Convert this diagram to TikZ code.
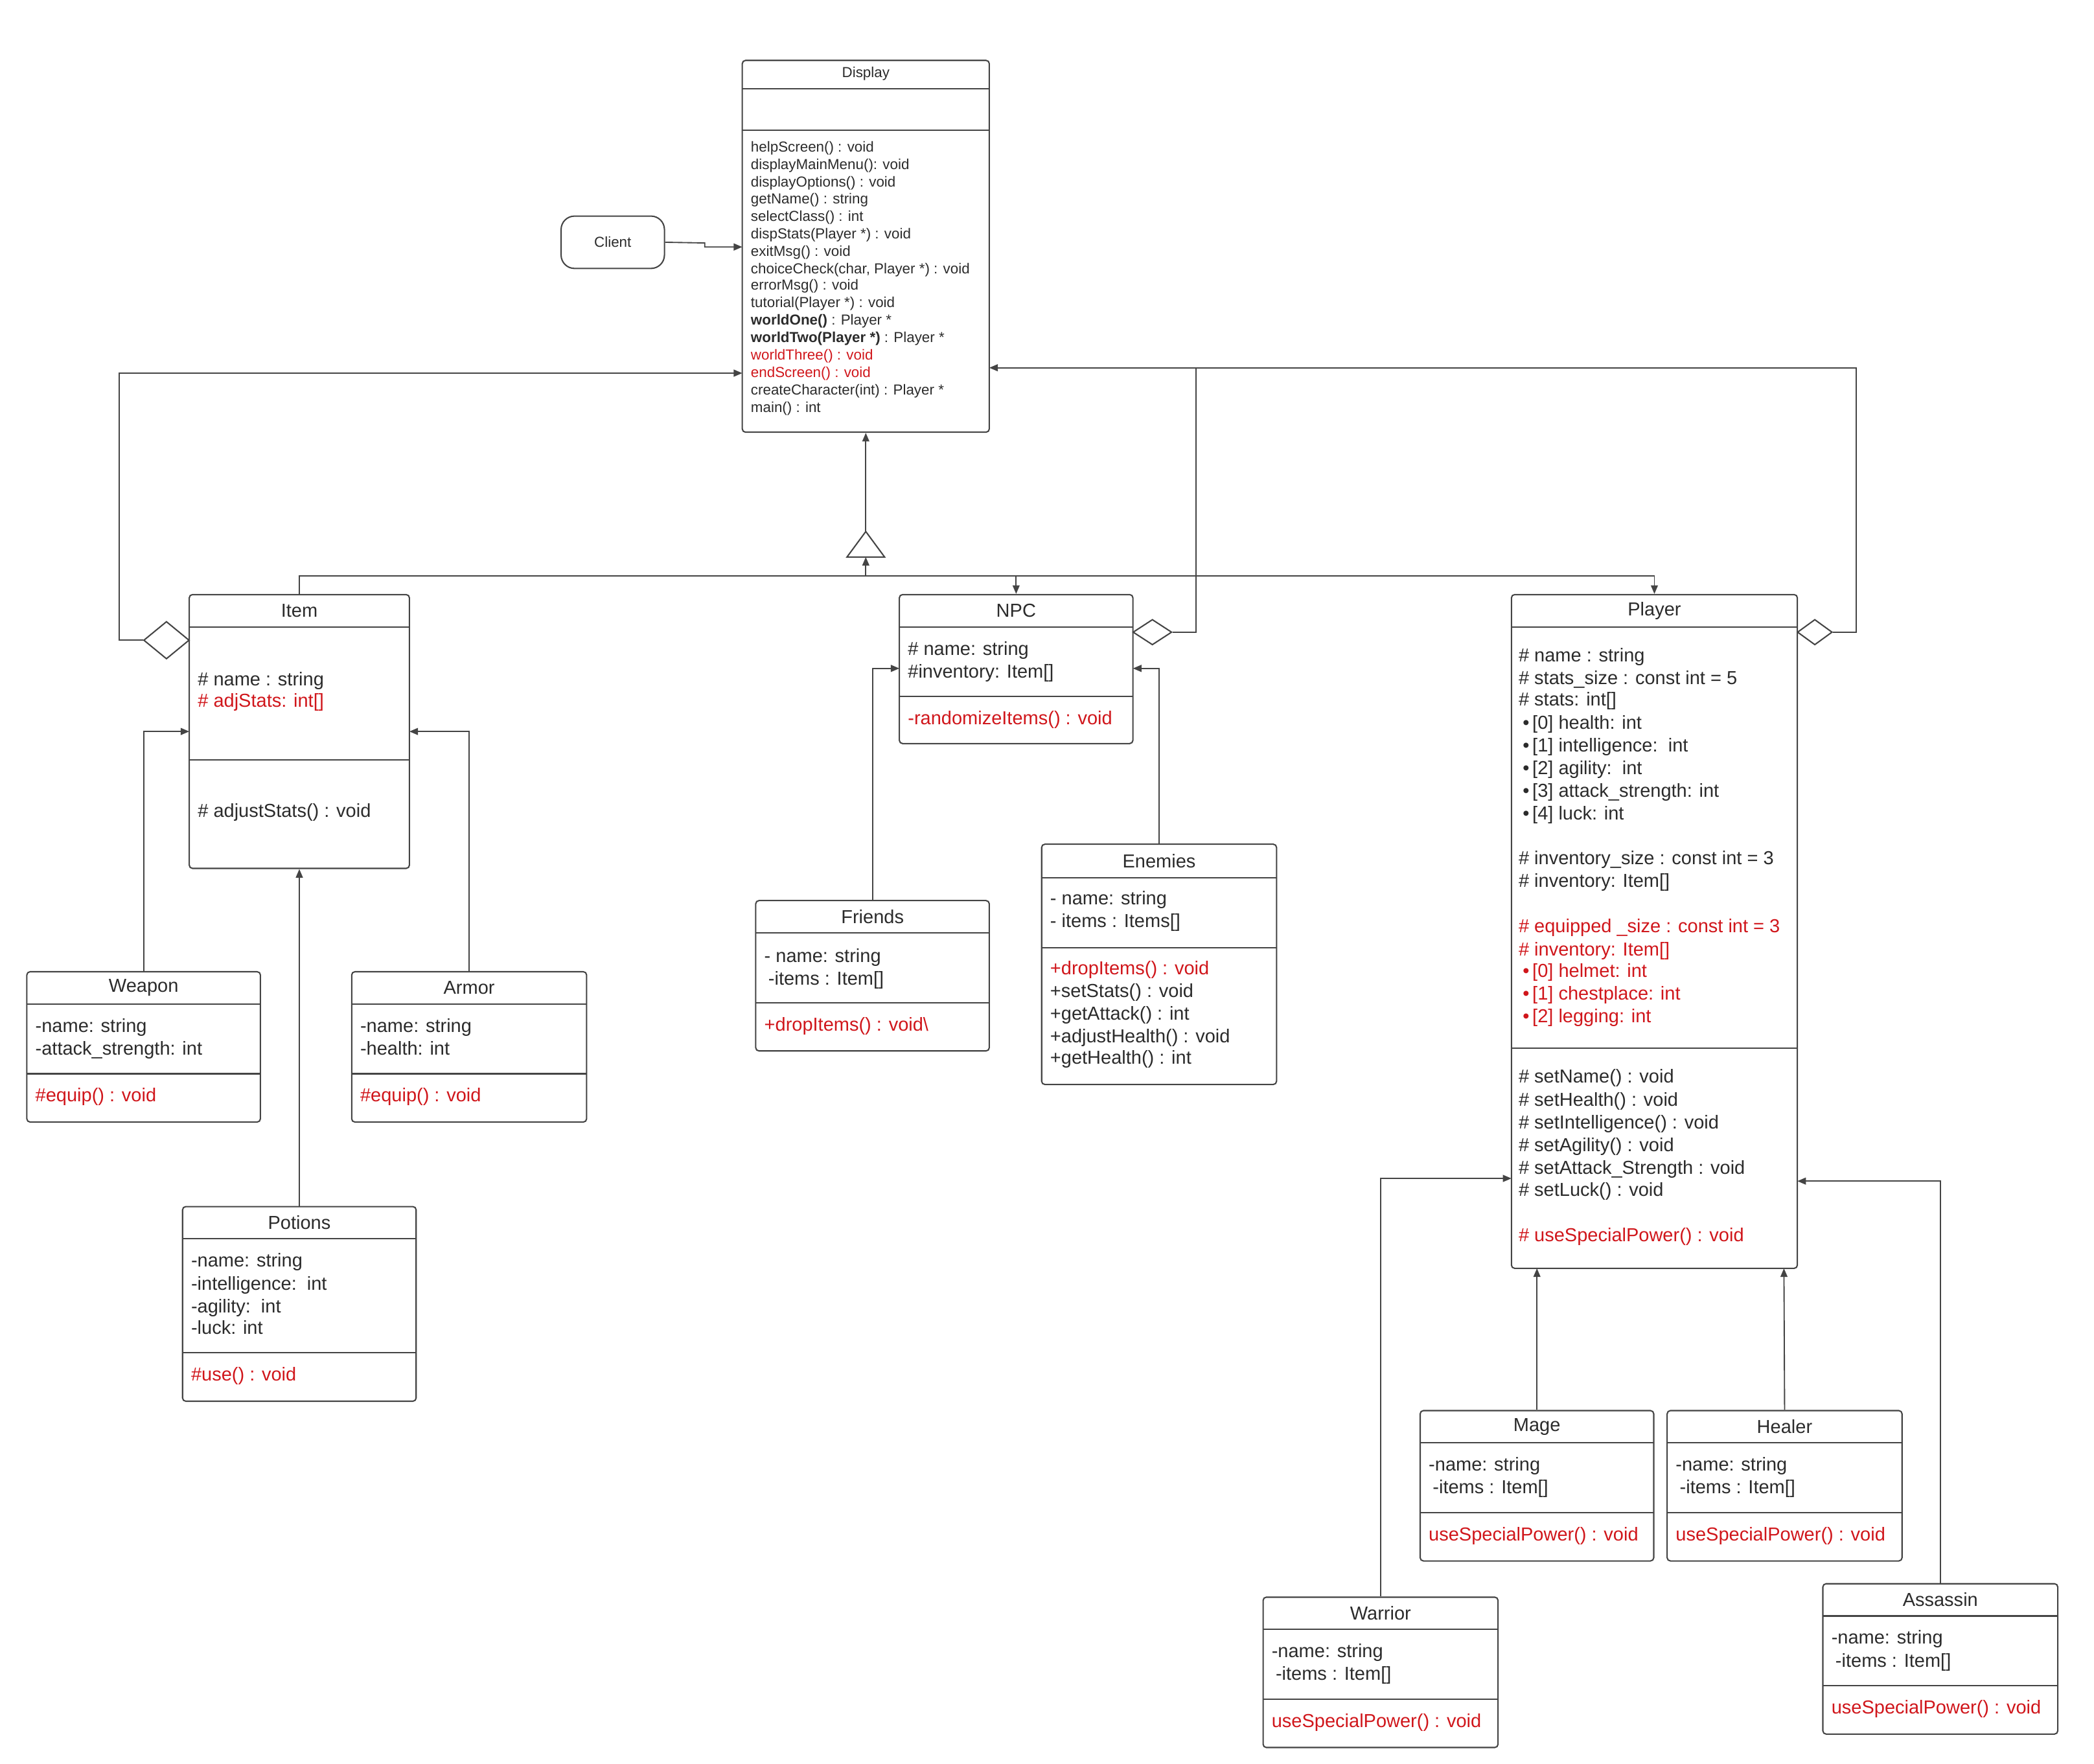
\documentclass[tikz,border=0pt]{standalone}
\usepackage{fontspec}
\setmainfont{Liberation Sans}
\usetikzlibrary{fit,arrows.meta,shapes.geometric}
\definecolor{ln}{HTML}{444444}
\definecolor{tx}{HTML}{2B2B2B}
\definecolor{rd}{HTML}{D0161B}
\tikzset{
  cls/.style={draw=ln, line width=0.5pt, rounded corners=1.2pt, inner sep=0pt},
  sep/.style={draw=ln, line width=0.5pt},
  ttl/.style={text=tx, font=\fontsize{7}{8}\selectfont, inner sep=0pt},
  t/.style={text=tx, anchor=base west, font=\fontsize{7}{8}\selectfont, inner sep=0pt},
  r/.style={t, text=rd},
  ds/.style={t, font=\fontsize{5.4}{6}\selectfont},
  dr/.style={ds, text=rd},
  con/.style={draw=ln, line width=0.45pt, -{Triangle[length=3.2pt,width=2.6pt]}},
  agg/.style={draw=ln, line width=0.45pt},
  dia/.style={draw=ln, line width=0.5pt, fill=white},
}
\newcommand\ubox[8]{%
  \node[cls, fit={(#2,#3)(#4,#5)}] (#1) {};
  \draw[sep] (#2,#6) -- (#4,#6);
  \draw[sep] (#2,#7) -- (#4,#7);
  \node[ttl] (#1-t) at ({(#2+#4)/2},{(#3+#6)/2}) {#8};}
\begin{document}
\begin{tikzpicture}[x=0.5pt,y=-0.5pt]
\useasboundingbox (0,0) rectangle (1560,1314);
% Display
\node[cls, fit={(553,45)(737,322)}] (disp) {};
\draw[sep] (553,66) -- (737,66);
\draw[sep] (553,97) -- (737,97);
\node[ttl, font=\fontsize{5.4}{6}\selectfont] (disp-t) at (645,55) {Display};
\foreach \s/\y in {helpScreen() : void/111, displayMainMenu(): void/124, displayOptions() : void/137, getName() : string/150, selectClass() : int/163, dispStats(Player *) : void/176, exitMsg() : void/189, {choiceCheck(char, Player *) : void}/202, errorMsg() : void/214, tutorial(Player *) : void/227, createCharacter(int) : Player */292, main() : int/305}
  \node[ds] at (559,\y+2) {\s};
\node[ds] at (559,242) {\textbf{worldOne()} : Player *};
\node[ds] at (559,255) {\textbf{worldTwo(Player *)} : Player *};
\node[dr] at (559,268) {worldThree() : void};
\node[dr] at (559,281) {endScreen() : void};
% Client
\node[draw=ln, line width=0.5pt, rounded corners=5pt, minimum width=38.5pt, minimum height=19.5pt, inner sep=0pt, text=tx, font=\fontsize{5.4}{6}\selectfont] (client) at (456.5,180.5) {Client};
\coordinate (cj) at (525,181);
\draw[con] (client.east) -- (cj) -- (525,184) -- (553,184);

% Item
\ubox{item}{141}{443}{305}{647}{467}{566}{Item}
\node[t] at (147,511) {\# name : string};
\node[r] at (147,527) {\# adjStats: int[]};
\node[t] at (147,609) {\# adjustStats() : void};
% NPC
\ubox{npc}{670}{443}{844}{554}{467}{519}{NPC}
\node[t] at (676,488) {\# name: string};
\node[t] at (676,505) {\#inventory: Item[]};
\node[r] at (676,540) {-randomizeItems() : void};
% Player
\ubox{player}{1126}{443}{1339}{945}{467}{781}{Player}
\foreach \s/\y in {\# name : string/488, \# stats\_size : const int = 5/505, \# stats: int[]/521, \# inventory\_size : const int = 3/639, \# inventory: Item[]/656, \# setName() : void/802, \# setHealth() : void/819, \# setIntelligence() : void/836, \# setAgility() : void/853, \# setAttack\_Strength : void/870, \# setLuck() : void/886}
  \node[t] at (1131,\y+5) {\s};
\foreach \s/\y in {{[0] health: int}/538, {[1] intelligence:\ \ int}/555, {[2] agility:\ \ int}/572, {[3] attack\_strength: int}/589, {[4] luck: int}/606}
  \node[t] at (1134,\y+5) {\textbullet\,\s};
\node[r] at (1131,695) {\# equipped \_size : const int = 3};
\node[r] at (1131,712) {\# inventory: Item[]};
\foreach \s/\y in {{[0] helmet: int}/723, {[1] chestplace: int}/740, {[2] legging: int}/757}
  \node[r] at (1134,\y+5) {\textbullet\,\s};
\node[r] at (1131,925) {\# useSpecialPower() : void};
% Weapon, Armor
\ubox{weapon}{20}{724}{194}{836}{748}{800}{Weapon}
\node[t] at (26,769) {-name: string};
\node[t] at (26,786) {-attack\_strength: int};
\node[r] at (26,821) {\#equip() : void};
\ubox{armor}{262}{724}{437}{836}{748}{800}{Armor}
\node[t] at (268,769) {-name: string};
\node[t] at (268,786) {-health: int};
\node[r] at (268,821) {\#equip() : void};
% Potions
\ubox{potions}{136}{899}{310}{1044}{923}{1008}{Potions}
\node[t] at (142,944) {-name: string};
\node[t] at (142,961) {-intelligence:\ \ int};
\node[t] at (142,978) {-agility:\ \ int};
\node[t] at (142,994) {-luck: int};
\node[r] at (142,1029) {\#use() : void};
% Friends
\ubox{friends}{563}{671}{737}{783}{695}{747}{Friends}
\node[t] at (569,717) {- name: string};
\node[t] at (572,734) {-items : Item[]};
\node[r] at (569,768) {+dropItems() : void\textbackslash};
% Enemies
\ubox{enemies}{776}{629}{951}{808}{654}{706}{Enemies}
\node[t] at (782,674) {- name: string};
\node[t] at (782,691) {- items : Items[]};
\node[r] at (782,726) {+dropItems() : void};
\node[t] at (782,743) {+setStats() : void};
\node[t] at (782,760) {+getAttack() : int};
\node[t] at (782,777) {+adjustHealth() : void};
\node[t] at (782,793) {+getHealth() : int};
% Mage, Healer, Warrior, Assassin
\ubox{mage}{1058}{1051}{1232}{1163}{1075}{1127}{Mage}
\node[t] at (1064,1096) {-name: string};
\node[t] at (1067,1113) {-items : Item[]};
\node[r] at (1064,1148) {useSpecialPower() : void};
\ubox{healer}{1242}{1051}{1417}{1163}{1075}{1127}{Healer}
\node[t] at (1248,1096) {-name: string};
\node[t] at (1251,1113) {-items : Item[]};
\node[r] at (1248,1148) {useSpecialPower() : void};
\ubox{warrior}{941}{1190}{1116}{1302}{1214}{1266}{Warrior}
\node[t] at (947,1235) {-name: string};
\node[t] at (950,1252) {-items : Item[]};
\node[r] at (947,1287) {useSpecialPower() : void};
\ubox{assassin}{1358}{1180}{1533}{1292}{1204}{1256}{Assassin}
\node[t] at (1364,1225) {-name: string};
\node[t] at (1367,1242) {-items : Item[]};
\node[r] at (1364,1277) {useSpecialPower() : void};

% generalization
\coordinate (tb) at (645,415);
\coordinate (ta) at (645,396);
\coordinate (bus) at (645,429);
\draw[dia, line join=miter] (631,415) -- (ta) -- (659,415) -- cycle;
\draw[con] (ta) -- (disp.south);
\draw[con] (bus) -- (tb);
\draw[agg] (223,443) -- (223,429) -- (1232,429);
\draw[con] (bus) -| (npc.north);
\draw[con] (1200,429) -| (player.north);

% aggregations
\node[dia, diamond, minimum width=17pt, minimum height=14pt, inner sep=0pt] (d1) at (124,477) {};
\draw[con] (d1.west) -- (89,477) -- (89,278) -- (553,278);
\node[dia, diamond, minimum width=14.5pt, minimum height=9.5pt, inner sep=0pt] (d2) at (858.5,471) {};
\draw[agg] (d2.east) -- (891,471) -- (891,274);
\node[dia, diamond, minimum width=13pt, minimum height=9.5pt, inner sep=0pt] (d3) at (1352,471) {};
\draw[con] (d3.east) -- (1383,471) -- (1383,274) -- (737,274);

% inheritance to NPC / Item / Player
\draw[con] (friends.north) |- (670,498);
\draw[con] (enemies.north) |- (844,498);
\draw[con] (weapon.north) |- (141,545);
\draw[con] (armor.north) |- (305,545);
\draw[con] (potions.north) -- (item.south);
\draw[con] (mage.north) -- (1145,945);
\draw[con] (healer.north) -- (1329,945);
\draw[con] (warrior.north) |- (1126,878);
\draw[con] (assassin.north) |- (1339,880);
\end{tikzpicture}
\end{document}
